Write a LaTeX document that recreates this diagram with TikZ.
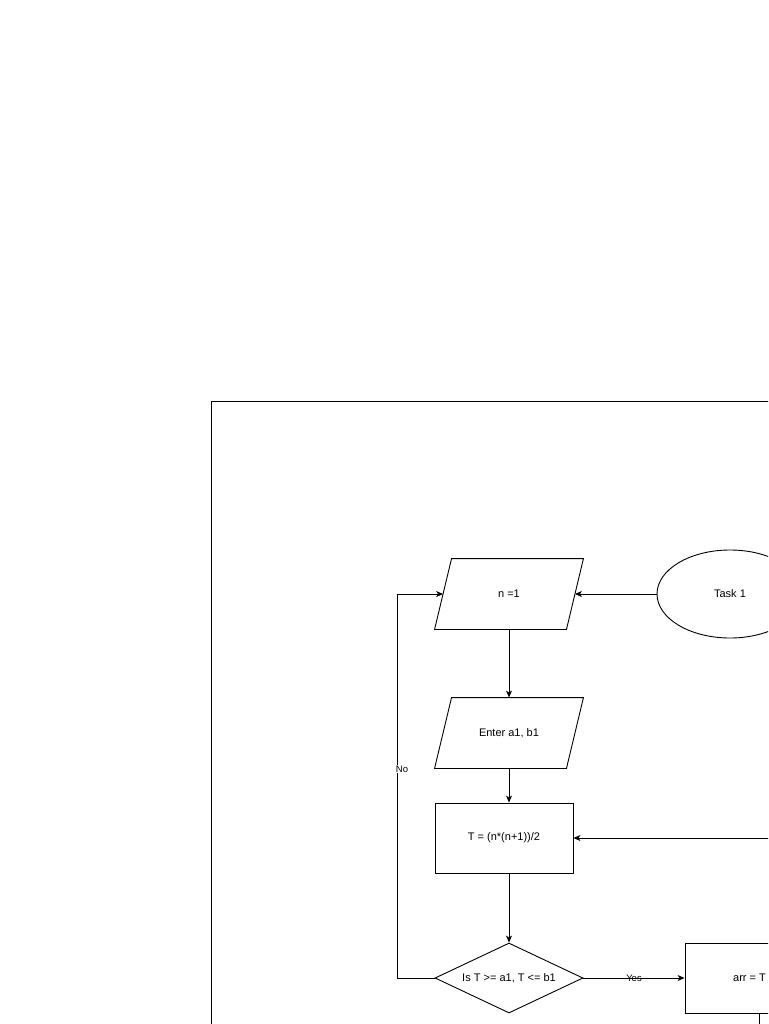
\documentclass[tikz,border=0pt]{standalone}
\usepackage{fontspec}
\setmainfont{Liberation Sans}
\usetikzlibrary{shapes.geometric,arrows.meta}
\begin{document}
\begin{tikzpicture}[x=1pt,y=-1pt, line width=0.9pt,
 lbl/.style={font=\fontsize{11}{13}\selectfont},
 box/.style={draw, rectangle, minimum width=138pt, minimum height=70pt, lbl, inner sep=0pt},
 para/.style={rectangle, minimum width=131pt, minimum height=70pt, lbl, inner sep=0pt},
 dec/.style={draw, diamond, minimum width=148pt, minimum height=70pt, lbl, inner sep=0pt},
 term/.style={draw, ellipse, minimum width=146pt, minimum height=88pt, lbl, inner sep=0pt},
 arr/.style={-{Stealth[length=7pt,width=6pt,inset=2pt]}},
 elbl/.style={font=\fontsize{9.5}{11}\selectfont, inner sep=1pt}]
\fill[white] (0,0) rectangle (768,1024);
\useasboundingbox (0,0) rectangle (768,1024);
\clip (0,0) rectangle (768,1024);
% frame
\coordinate (fa) at (211.5,1040);
\coordinate (fb) at (211.5,401.5);
\coordinate (fc) at (790,401.5);
\draw (fa) -- (fb) -- (fc);
% nodes
\node[para] (n1) at (509,594) {n =1};
\node[para] (in) at (509,733) {Enter a1, b1};
\node[box] (T) at (504,838) {T = (n*(n+1))/2};
\node[dec] (d) at (509,978) {\makebox[0pt]{Is T >= a1, T <= b1}};
\node[term] (task) at (730,594) {Task 1};
\node[box, minimum width=129pt] (arr) at (749.5,978) {arr = T};
% parallelogram outlines
\foreach \p in {n1,in}{
  \draw ([xshift=-8.5pt]\p.south west) -- ([xshift=-8.5pt]\p.south east)
     -- ([xshift=8.5pt]\p.north east) -- ([xshift=8.5pt]\p.north west) -- cycle;
}
% edges
\draw[arr] (task.west) -- (n1.east);
\draw[arr] (n1.south) -- (in.north);
\draw[arr] (in.south) -- (in.south |- T.north);
\draw[arr] (T.south -| d.north) -- (d.north);
\draw[arr] (d.east) -- node[elbl] (yes) {Yes} (arr.west);
\coordinate (lp) at (397.5,0);
\draw[arr] (d.west) -- (d.west -| lp) -- (n1.west -| lp) -- (n1.west);
\node[elbl, fill=white] (no) at (402,769) {No};
\coordinate (tin) at (790,838);
\draw[arr] (tin) -- (T.east);
\coordinate (ab) at (759,1040);
\draw (arr.south -| ab) -- (ab);
\end{tikzpicture}
\end{document}
